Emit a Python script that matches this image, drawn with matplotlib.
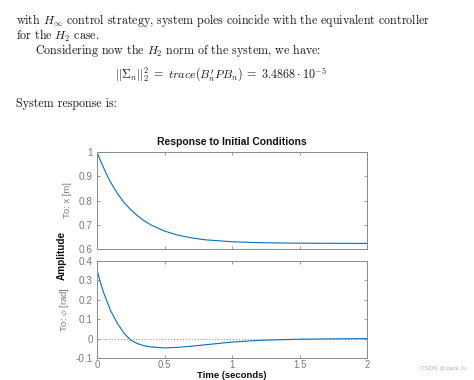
import matplotlib
matplotlib.use("Agg")
import matplotlib.pyplot as plt

plt.rcParams['mathtext.fontset'] = 'cm'
plt.rcParams['font.family'] = ['Liberation Sans', 'DejaVu Sans']

# values
t_x = [0, 0.025, 0.05, 0.075, 0.1, 0.15, 0.2, 0.25, 0.3, 0.35, 0.4, 0.5, 0.6, 0.7,
       0.8, 1.0, 1.2, 1.5, 2.0]
x_resp = [1.0, 0.965, 0.934, 0.903, 0.876, 0.830, 0.792, 0.762, 0.737, 0.716, 0.699,
          0.674, 0.657, 0.646, 0.638, 0.630, 0.626, 0.624, 0.623]

t_phi = [0, 0.025, 0.05, 0.075, 0.1, 0.15, 0.2, 0.25, 0.3, 0.35, 0.4, 0.5, 0.6, 0.7,
         0.8, 1.0, 1.2, 1.5, 2.0]
phi_resp = [0.355, 0.29, 0.235, 0.19, 0.145, 0.08, 0.028, -0.008, -0.026, -0.037, -0.043,
            -0.048, -0.045, -0.039, -0.032, -0.018, -0.009, -0.003, 0.0]

x_ticks = [0, 0.5, 1, 1.5, 2]
x_tick_labels = ['0', '0.5', '1', '1.5', '2']
top_yticks = [0.6, 0.7, 0.8, 0.9, 1]
top_ylabels = ['0.6', '0.7', '0.8', '0.9', '1']
bot_yticks = [-0.1, 0, 0.1, 0.2, 0.3, 0.4]
bot_ylabels = ['-0.1', '0', '0.1', '0.2', '0.3', '0.4']

W, H = 474, 380
fig = plt.figure(figsize=(W / 100, H / 100), dpi=100)


def px(x, y):
    return x / W, 1 - y / H


text_kw = dict(fontfamily='cmr10', fontsize=8.65, color='#1a1a1a', va='baseline')
fig.text(*px(16, 24), r"with $H_\infty$ control strategy, system poles coincide with the equivalent controller", **text_kw)
fig.text(*px(16, 39.5), r"for the $H_2$ case.", **text_kw)
fig.text(*px(35, 54), r"Considering now the $H_2$ norm of the system, we have:", **text_kw)
fig.text(*px(221, 79), r"$||\Sigma_n||_2^2\;=\;trace(B_n^{\prime}PB_n)\;=\;3.4868\cdot10^{-5}$",
         fontsize=8.65, color='#1a1a1a', va='baseline', ha='center')
fig.text(*px(16, 107), "System response is:", **text_kw)

line_c = '#0072BD'
axis_c = '#8a8a8a'
lab_c = '#7a7a7a'

ax1 = fig.add_axes([97 / W, 1 - 249 / H, 270 / W, 97 / H])
ax2 = fig.add_axes([97 / W, 1 - 358 / H, 270 / W, 97 / H])

ax1.plot(t_x, x_resp, color=line_c, lw=0.8)
ax2.plot([0, 2], [0, 0], color='#9a9a9a', lw=0.8, ls=':')
ax2.plot(t_phi, phi_resp, color=line_c, lw=0.8)

for ax in (ax1, ax2):
    ax.set_xlim(0, 2)
    ax.set_xticks(x_ticks)
    for s in ax.spines.values():
        s.set_color(axis_c)
        s.set_linewidth(0.7)
    ax.tick_params(direction='in', length=2.5, width=0.6, colors=axis_c, labelcolor=lab_c,
                   labelsize=7.2, top=True, right=True, pad=3)

ax1.set_ylim(0.6, 1)
ax1.set_yticks(top_yticks)
ax1.set_yticklabels(top_ylabels)
ax1.set_xticklabels([])
ax2.set_ylim(-0.1, 0.4)
ax2.set_yticks(bot_yticks)
ax2.set_yticklabels(bot_ylabels)
ax2.set_xticklabels(x_tick_labels)
ax2.tick_params(axis='x', pad=1.5, labelsize=7)

ax1.set_ylabel('To: x [m]', fontsize=6.8, color=lab_c, labelpad=5)
ax2.set_ylabel(r'To: $\phi$ [rad]', fontsize=6.8, color=lab_c, labelpad=3)

fig.text(*px(232, 142), 'Response to Initial Conditions', fontweight='bold', fontsize=7.5,
         ha='center', va='center', color='#111111')
fig.text(*px(62, 255), 'Amplitude', fontweight='bold', fontsize=7.2, rotation=90,
         ha='center', va='center', color='#111111')
fig.text(*px(232, 380), 'Time (seconds)', fontweight='bold', fontsize=6.8,
         ha='center', va='bottom', color='#111111')
fig.text(*px(443, 368), 'CSDN @Jack Ju', fontsize=4.5, color='#b0b0b0', ha='center', va='center')

fig.savefig('out.png', dpi=100)
